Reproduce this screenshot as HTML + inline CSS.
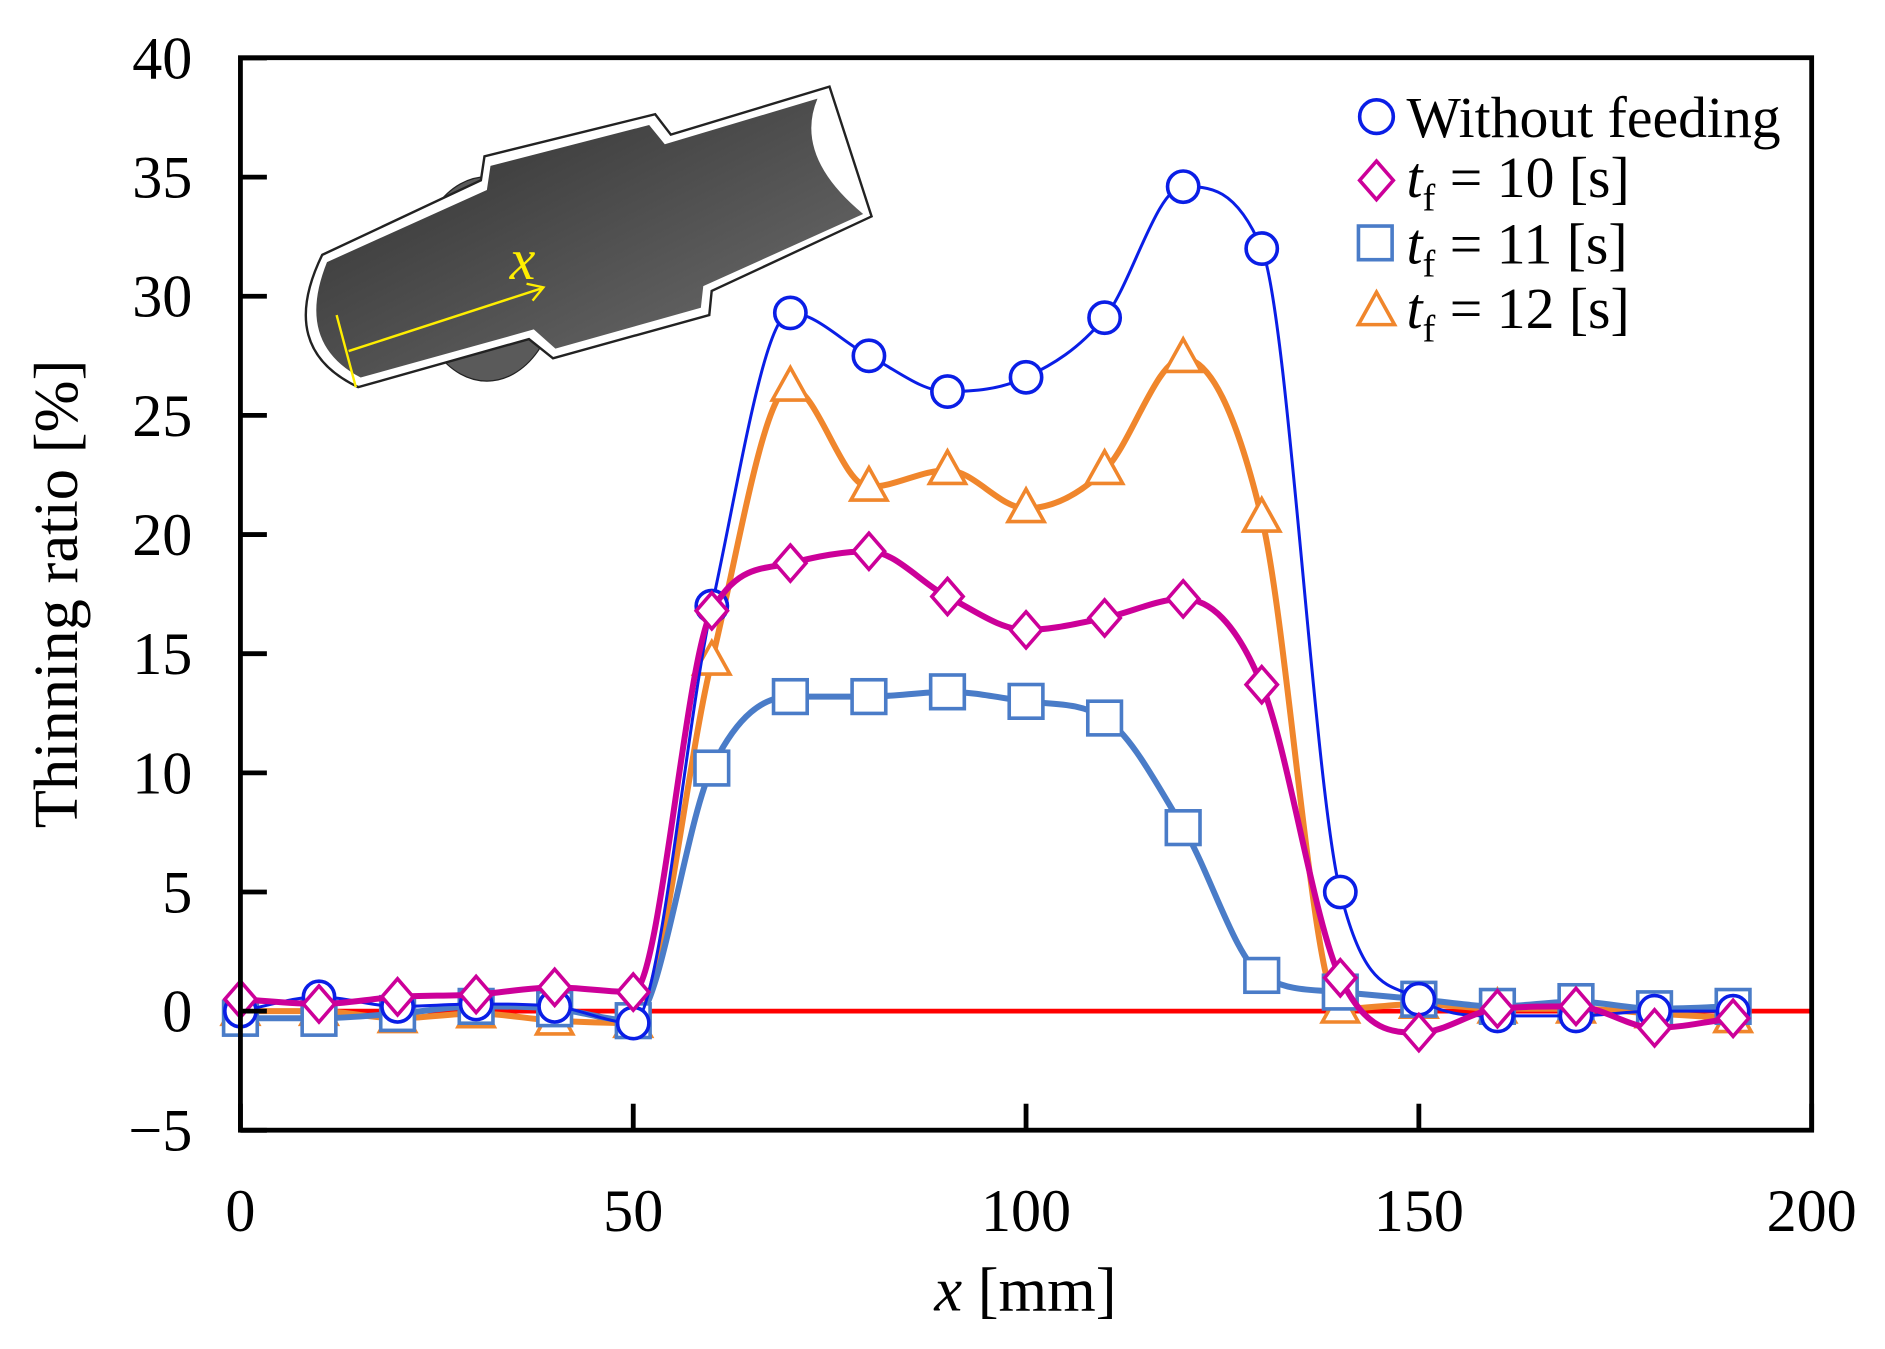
<!DOCTYPE html>
<html><head><meta charset="utf-8"><style>
html,body{margin:0;padding:0;background:#fff;}
svg{display:block;}
text{font-family:"Liberation Serif",serif;}
</style></head><body>
<svg id="s" width="1885" height="1349" viewBox="0 0 1568 1122" preserveAspectRatio="none" xmlns="http://www.w3.org/2000/svg">
<defs>
<linearGradient id="g" x1="0" y1="0" x2="1" y2="1">
<stop offset="0" stop-color="#2e2e2e"/><stop offset="1" stop-color="#707070"/>
</linearGradient>
</defs>
<g id="inset">
<ellipse cx="405" cy="232" rx="60" ry="85" fill="#5a5a5a" stroke="#222" stroke-width="1"/>
<path d="M268,212 L400,150 L403,130 L545,95 L558,112 L690,72 L725,180 L592,242 L590,262 L460,298 L440,282 L298,322 Q230,290 268,212 Z" fill="#fff" stroke="#222" stroke-width="2"/>
<path d="M272,218 L405,158 L408,138 L540,104 L553,120 L680,82 Q660,130 718,178 L585,238 L583,256 L462,290 L444,274 L300,314 Q245,285 272,218 Z" fill="url(#g)"/>
<line x1="280" y1="262" x2="296" y2="322" stroke="#ffee00" stroke-width="2"/>
<line x1="290" y1="292" x2="450" y2="240" stroke="#ffee00" stroke-width="2"/>
<path d="M438,236 L452,239 L443,250" fill="none" stroke="#ffee00" stroke-width="2"/>
<text x="424" y="232" font-size="48" font-style="italic" fill="#ffee00">x</text>
</g>
<line x1="200" y1="841" x2="1507" y2="841" stroke="#ff0000" stroke-width="4"/>
<g id="series"></g>
<rect x="200" y="48" width="1307" height="892" fill="none" stroke="#000" stroke-width="4"/>
<g id="ticks" font-size="50" fill="#000"></g>
<text x="853" y="1090" font-size="52" text-anchor="middle"><tspan font-style="italic">x</tspan> [mm]</text>
<text transform="translate(64,494) rotate(-90)" font-size="52" text-anchor="middle">Thinning ratio [%]</text>
<g font-size="48">
<circle cx="1145" cy="97" r="14" fill="none" stroke="#0a1ee6" stroke-width="3"/>
<text x="1170" y="114">Without feeding</text>
<path d="M1145,134 L1159,150 L1145,166 L1131,150 Z" fill="none" stroke="#cc0099" stroke-width="3"/>
<text x="1170" y="164"><tspan font-style="italic">t</tspan><tspan font-size="32" dy="11">f</tspan><tspan dy="-11"> = 10 [s]</tspan></text>
<rect x="1130" y="188" width="28" height="28" fill="none" stroke="#4a7cc8" stroke-width="3"/>
<text x="1170" y="219"><tspan font-style="italic">t</tspan><tspan font-size="32" dy="11">f</tspan><tspan dy="-11"> = 11 [s]</tspan></text>
<path d="M1145,243 L1160,270 L1130,270 Z" fill="none" stroke="#f0862c" stroke-width="3"/>
<text x="1170" y="273"><tspan font-style="italic">t</tspan><tspan font-size="32" dy="11">f</tspan><tspan dy="-11"> = 12 [s]</tspan></text>
</g>
</svg>
<script>
const X=v=>200+v*6.535, Y=v=>841-v*19.82;
const xs=[...Array(20)].map((_,i)=>i*10);
const S=[
{c:'#f0862c',w:5,m:'t',d:[0,0,-0.3,-0.1,-0.4,-0.5,14.7,26.2,22.0,22.7,21.1,22.7,27.4,20.7,0.1,0.3,0.1,0.1,-0.1,-0.3]},
{c:'#4a7cc8',w:5,m:'s',d:[-0.3,-0.3,-0.1,0.2,0.1,-0.4,10.2,13.2,13.2,13.4,13.0,12.3,7.7,1.5,0.8,0.5,0.2,0.4,0.1,0.2]},
{c:'#0a1ee6',w:2.5,m:'c',d:[0,0.6,0.2,0.3,0.2,-0.5,17,29.3,27.5,26.0,26.6,29.1,34.6,32.0,5.0,0.5,-0.2,-0.2,0,0]},
{c:'#cc0099',w:5,m:'d',d:[0.5,0.3,0.6,0.7,1.0,0.8,16.8,18.8,19.3,17.4,16.0,16.5,17.3,13.7,1.4,-0.9,0.1,0.2,-0.7,-0.3]},
];
let h='';
for(const s of S){
 const p=s.d.map((v,i)=>[X(xs[i]),Y(v)]);
 const n=p.length, dx=p[1][0]-p[0][0];
 const del=[];for(let i=0;i<n-1;i++)del.push((p[i+1][1]-p[i][1])/dx);
 const m=[];for(let i=0;i<n;i++){
  if(i==0)m.push(del[0]);else if(i==n-1)m.push(del[n-2]);
  else{const a=del[i-1],b=del[i];m.push(a*b<=0?0:(a+b)/2);}
 }
 for(let i=0;i<n-1;i++){if(del[i]==0){m[i]=m[i+1]=0;continue;}
  const a=m[i]/del[i],b=m[i+1]/del[i],q=a*a+b*b;if(q>9){const t=3/Math.sqrt(q);m[i]=t*a*del[i];m[i+1]=t*b*del[i];}}
 let d='M'+p[0];
 for(let i=0;i<n-1;i++){
  const b=p[i],c=p[i+1];
  d+=` C${b[0]+dx/3},${b[1]+m[i]*dx/3} ${c[0]-dx/3},${c[1]-m[i+1]*dx/3} ${c[0]},${c[1]}`;
 }
 h+=`<path d="${d}" fill="none" stroke="${s.c}" stroke-width="${s.w}"/>`;
 for(const [x,y] of p){
  const st=`fill="#fff" stroke="${s.c}" stroke-width="3"`;
  if(s.m=='c')h+=`<circle cx="${x}" cy="${y}" r="13" ${st}/>`;
  if(s.m=='s')h+=`<rect x="${x-14}" y="${y-14}" width="28" height="28" ${st}/>`;
  if(s.m=='t')h+=`<path d="M${x},${y-16} L${x+15},${y+11} L${x-15},${y+11} Z" ${st}/>`;
  if(s.m=='d')h+=`<path d="M${x},${y-15} L${x+13},${y} L${x},${y+15} L${x-13},${y} Z" ${st}/>`;
 }
}
document.getElementById('series').innerHTML=h;
let t='';
for(let v=-5;v<=40;v+=5){const y=Y(v);t+=`<line x1="200" y1="${y}" x2="222" y2="${y}" stroke="#000" stroke-width="4"/><text x="160" y="${y+17}" text-anchor="end">${v<0?'\u2212'+(-v):v}</text>`;}
for(let v=0;v<=200;v+=50){const x=X(v);t+=`<line x1="${x}" y1="940" x2="${x}" y2="918" stroke="#000" stroke-width="4"/><text x="${x}" y="1024" text-anchor="middle">${v}</text>`;}
document.getElementById('ticks').innerHTML=t;
</script>
</body></html>
